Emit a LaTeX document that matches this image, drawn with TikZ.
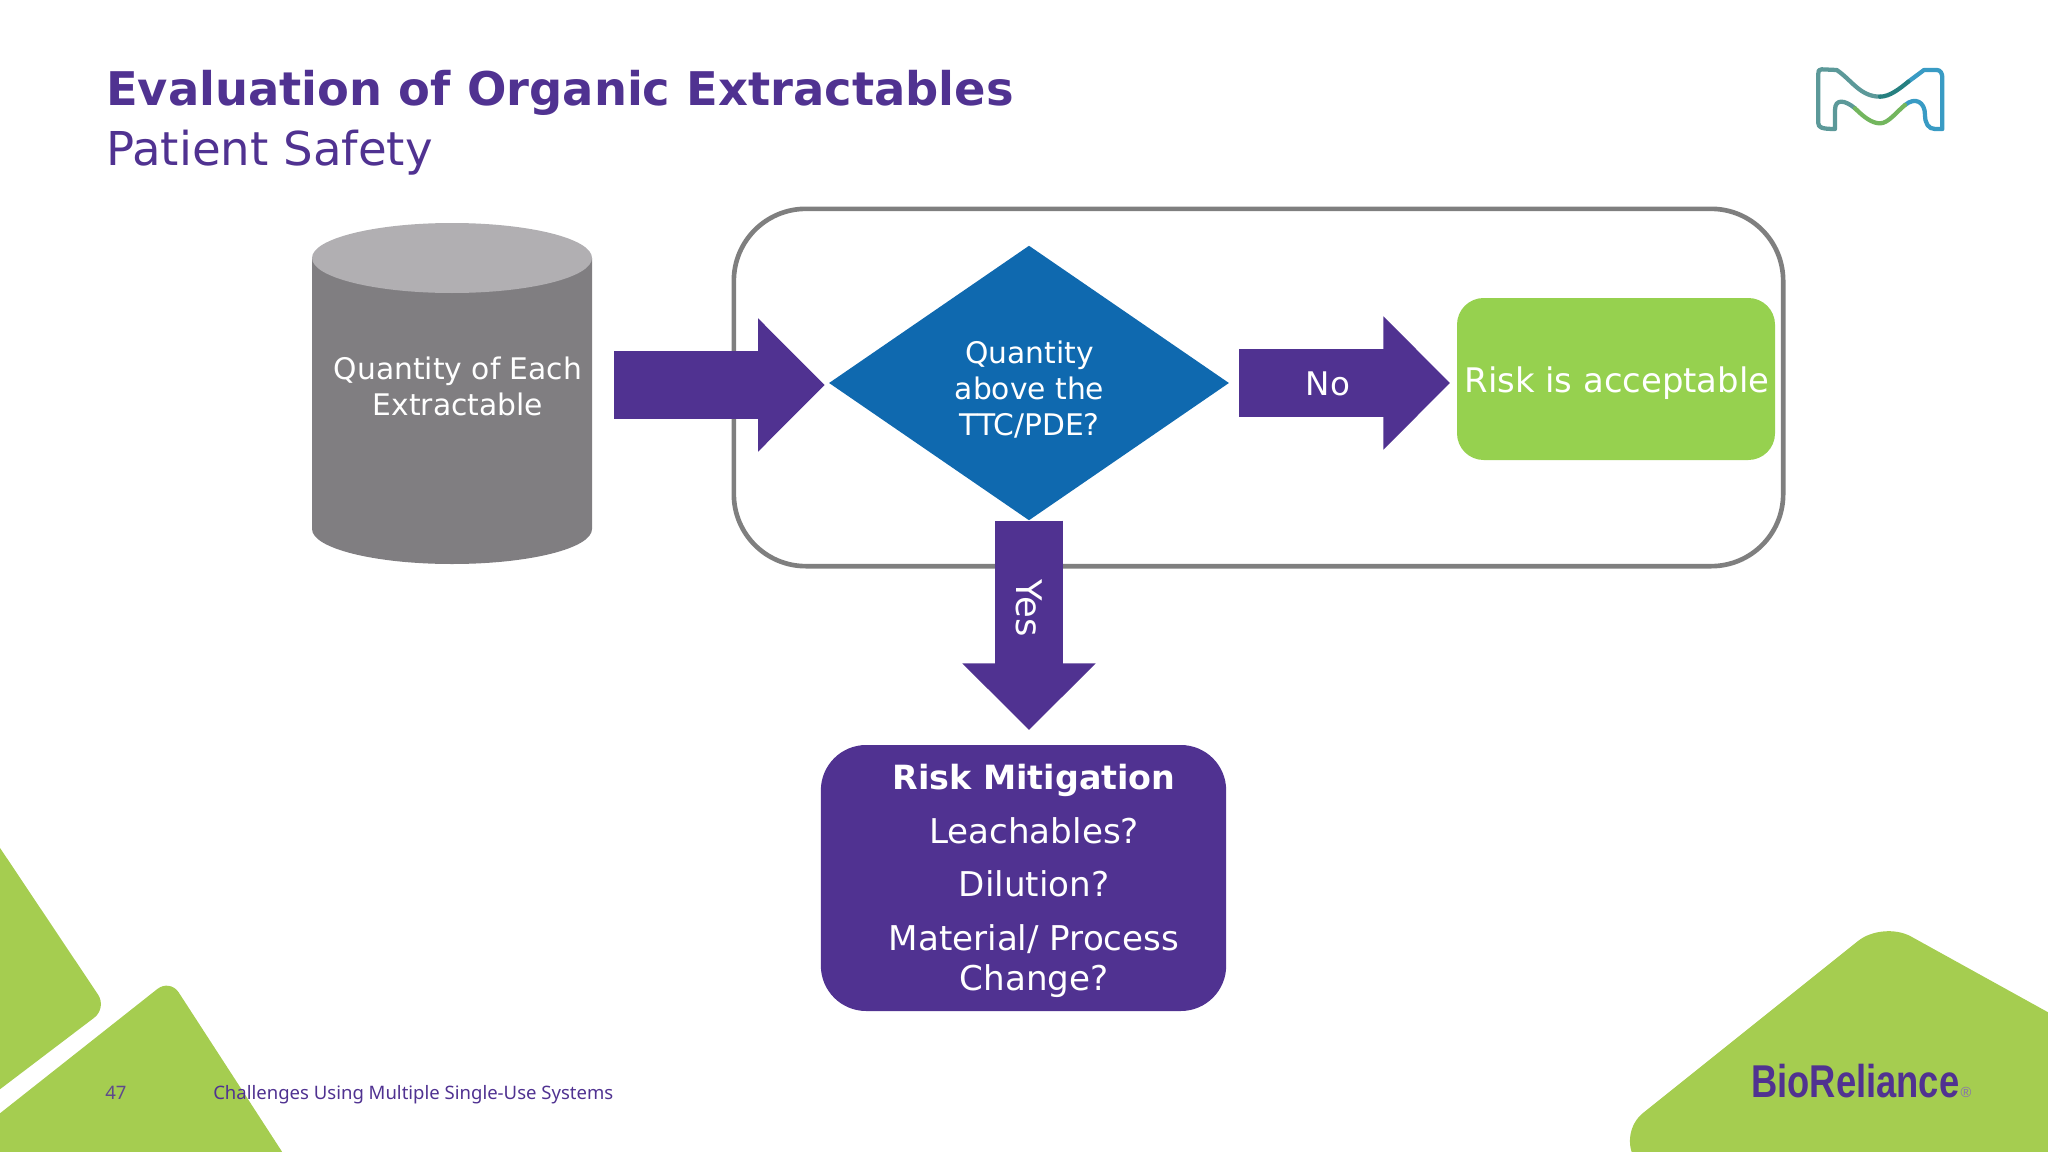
\documentclass[tikz,border=0pt]{standalone}
\usepackage{fontspec}
\setmainfont{DejaVu Sans}
\newfontfamily\footfont{Noto Sans}
\newfontfamily\logofont{Liberation Sans}
\usetikzlibrary{shapes.geometric,arrows.meta}

\definecolor{mpurple}{HTML}{503291}
\definecolor{mblue}{HTML}{0F69AF}
\definecolor{mgreen}{HTML}{96D14F}
\definecolor{cornergreen}{HTML}{A5CD50}
\definecolor{cylbody}{HTML}{807E81}
\definecolor{cyltop}{HTML}{B1AFB2}
\definecolor{framegrey}{HTML}{7F7F7F}

\tikzset{
  blockarrow/.style={draw=mpurple,line width=50.5pt,-{Triangle[length=50pt,width=97pt]}},
  bodytext/.style={text=white,align=center,inner sep=0pt,font=\fontsize{22.3}{27}\selectfont},
  corner/.style={fill=cornergreen,rounded corners=12}
}

\begin{document}
\begin{tikzpicture}[x=0.75pt,y=0.75pt,yscale=-1,xscale=1]
\clip (0,0) rectangle (2048,1152);

%Shape: Corners
\fill[corner] (-30,803) -- (107,1008) -- (-30,1112) -- cycle;
\fill[corner] (-30,1137) -- (170,979) -- (290,1164) -- (-30,1164) -- cycle;
\fill[corner,rounded corners=24] (1883,921) -- (2100,1041) -- (2100,1230) -- (1700,1260) -- (1618,1133) -- cycle;

%Shape: Logo
\begin{scope}[shift={(1780,40)},scale=1/3,line width=3.2pt,line cap=round,line join=round]
\draw[color=teal!60!gray!80] (300,170) .. controls (240,170) and (215,120) .. (170,90) -- (125,88) .. controls (116,88) and (115,92) .. (115,100) -- (115,250) .. controls (115,262) and (125,267) .. (165,267) -- (165,210) .. controls (165,175) and (195,180) .. (225,205);
\draw[color=cyan!60!teal!90!gray] (385,125) -- (432,90) -- (470,90) .. controls (482,90) and (487,100) .. (487,115) -- (487,267) -- (465,267) .. controls (445,267) and (435,250) .. (435,225) .. controls (435,185) and (405,170) .. (375,195);
\draw[color=teal!70!gray] (300,170) .. controls (330,170) and (360,145) .. (385,125);
\draw[color=cornergreen!70!teal] (225,205) .. controls (250,230) and (275,250) .. (300,250) .. controls (325,250) and (350,215) .. (375,195);
\end{scope}

%Shape: Frame
\node[draw=framegrey,line width=3.5pt,rounded corners=54pt,minimum width=787pt,minimum height=268pt] (frame) at (1258.5,387.5) {};

%Shape: Cylinder
\fill[cylbody] (312,258) -- (312,529) arc[start angle=180,end angle=0,x radius=140,y radius=35] -- (592,258) -- cycle;
\fill[cyltop] (452,258) ellipse[x radius=140,y radius=35];
\node[minimum width=210pt,minimum height=256pt,inner sep=0pt] (store) at (452,393.5) {};
\node[bodytext] (storetext) at (458,386) {Quantity of Each\\Extractable};

%Shape: Diamond
\node[diamond,fill=mblue,aspect=1.4545,minimum width=300pt,minimum height=206pt] (above) at (1029,383) {};
\node[bodytext] (abovetext) at (1029.5,390) {Quantity\\above the\\TTC/PDE?};

%Shape: Rounded boxes
\node[fill=mgreen,rounded corners=20pt,minimum width=238.5pt,minimum height=121.5pt] (accept) at (1616,379) {};
\node[bodytext,font=\fontsize{25.4}{30}\selectfont] (accepttext) at (1617,383) {Risk is acceptable};
\node[fill=mpurple,rounded corners=34pt,minimum width=304pt,minimum height=199.5pt] (mitigate) at (1023.5,878) {};
\node[bodytext,font=\fontsize{25.6}{30.4}\selectfont] (mitigatetext) at (1034,881) {{\fontsize{25}{30.4}\selectfont\bfseries Risk Mitigation}\\[9.8pt]Leachables?\\[9.8pt]Dilution?\\[9.8pt]Material/ Process\\Change?};

%Straight Lines: block arrows
\draw[blockarrow,shorten <=16.5pt,shorten >=3pt] ([yshift=1.5pt]above.west -| store.east) -- ([yshift=1.5pt]above.west);
\draw[blockarrow,shorten <=7.5pt,shorten >=5pt] (above.east) -- (above.east -| accept.west) node[pos=.434,yshift=-1pt,bodytext,font=\fontsize{24.4}{29}\selectfont] (no) {No};
\draw[blockarrow,shorten >=11pt] (above.south) -- (above.south |- mitigate.north) node[pos=.39,rotate=-90,bodytext,font=\fontsize{26.5}{29}\selectfont] (yes) {Yes};

% Text Node
\node[anchor=base west,inner sep=0pt,text=mpurple,font=\fontsize{34.8}{40}\selectfont\bfseries] (title) at (106,106) {Evaluation of Organic Extractables};
\node[anchor=base west,inner sep=0pt,text=mpurple,font=\fontsize{35}{40}\selectfont] (subtitle) at (106,166) {Patient Safety};
\node[anchor=base west,inner sep=0pt,text=mpurple!70!gray,font=\fontsize{13.9}{16}\footfont] (page) at (105,1099) {47};
\node[anchor=base west,inner sep=0pt,text=mpurple,font=\fontsize{13.9}{16}\footfont] (footer) at (213,1099) {Challenges Using Multiple Single-Use Systems};
\node[anchor=base west,inner sep=0pt,text=mpurple,font=\fontsize{34.5}{40}\logofont\bfseries] (brand) at (1751,1097) {\scalebox{.79}[1]{BioReliance}};
\node[inner sep=0pt,text=mpurple!70,font=\fontsize{11}{12}\logofont] (reg) at (1966,1092) {®};
\end{tikzpicture}
\end{document}
